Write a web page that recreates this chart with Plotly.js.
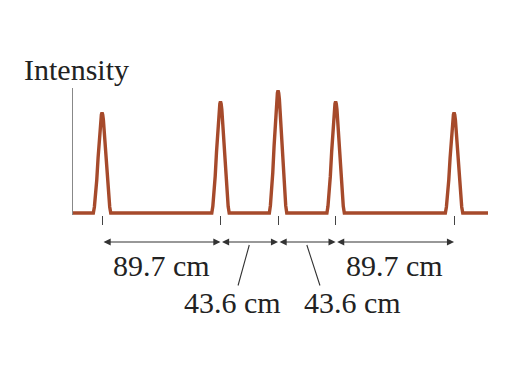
<!DOCTYPE html>
<html>
<head>
<meta charset="utf-8">
<script src="https://cdn.plot.ly/plotly-3.0.1.min.js"></script>
<style>html,body{margin:0;padding:0;background:#fff;}#chart{width:517px;height:367px;}</style>
</head>
<body>
<div id="chart"></div>
<script>
// Peak positions along the screen (cm) and relative intensities
const peakPositions = [0, 89.7, 133.3, 176.9, 266.6];
const peakIntensity = [0.82, 0.91, 1.0, 0.91, 0.82];
// Shape of a single peak: offset (cm) vs fraction of peak height
const profileOffsets = [-6.6, -5.8, -5, -4, -3, -2, -1, -0.5, 0, 0.5, 1, 2, 3, 4, 5, 5.8, 6.6];
const profileShape   = [0, 0.06, 0.15, 0.33, 0.55, 0.76, 0.93, 0.98, 1, 0.98, 0.93, 0.76, 0.55, 0.33, 0.15, 0.06, 0];
// Spacing labels between neighbouring peaks
const gapLabels = ['89.7 cm', '43.6 cm', '43.6 cm', '89.7 cm'];
const screenStart = -22, screenEnd = 292.3;

const xs = [screenStart], ys = [0];
peakPositions.forEach((p, i) => {
  profileOffsets.forEach((o, j) => { xs.push(p + o); ys.push(peakIntensity[i] * profileShape[j]); });
});
xs.push(screenEnd); ys.push(0);

const FONT = 'Liberation Serif, Times New Roman, serif';
const plotTop = 88, plotBottom = 215, plotH = plotBottom - plotTop;
const py = px => (plotBottom - px) / plotH; // pixel row -> paper y

const annotations = [];
// Intensity label
annotations.push({xref: 'paper', yref: 'paper', x: 0, y: py(69), xanchor: 'center', yanchor: 'middle',
  xshift: 3, text: 'Intensity', showarrow: false, font: {family: FONT, size: 30, color: '#222'}});
// dimension arrows
for (let i = 0; i < peakPositions.length - 1; i++) {
  annotations.push({xref: 'x', yref: 'paper', x: peakPositions[i + 1], y: py(242),
    axref: 'x', ayref: 'pixel', ax: peakPositions[i], ay: 0, text: '', showarrow: true,
    arrowside: 'end+start', arrowhead: 2, arrowsize: 1.3, arrowwidth: 1.1, arrowcolor: '#333'});
}
// long gap labels below their arrows
[0, 3].forEach(i => {
  annotations.push({xref: 'x', yref: 'paper', x: (peakPositions[i] + peakPositions[i + 1]) / 2, y: py(265),
    xanchor: 'center', yanchor: 'middle',
    text: gapLabels[i], showarrow: false, font: {family: FONT, size: 30, color: '#222'}});
});
// short gap labels with leader lines
const shortLabelX = [98.6, 189.3];
const leaderEndX = [102.7, 165.4];
[1, 2].forEach((i, k) => {
  const mid = (peakPositions[i] + peakPositions[i + 1]) / 2;
  annotations.push({xref: 'x', yref: 'paper', x: mid, y: py(245), axref: 'x', ayref: 'pixel',
    ax: leaderEndX[k], ay: 42, text: '', showarrow: true, arrowhead: 0, arrowwidth: 1.1, arrowcolor: '#333'});
  annotations.push({xref: 'x', yref: 'paper', x: shortLabelX[k], y: py(302), xanchor: 'center', yanchor: 'middle',
    text: gapLabels[i], showarrow: false, font: {family: FONT, size: 30, color: '#222'}});
});

const trace = {x: xs, y: ys, type: 'scatter', mode: 'lines',
  line: {color: '#a64a2b', width: 3.4}, hoverinfo: 'skip', cliponaxis: false};

const layout = {
  width: 517, height: 367,
  margin: {l: 73, r: 517 - 488, t: plotTop, b: 367 - plotBottom, pad: 0},
  paper_bgcolor: '#fff', plot_bgcolor: '#fff', showlegend: false,
  xaxis: {range: [screenStart, screenEnd], tickvals: peakPositions, ticks: 'outside', ticklen: 9,
    tickwidth: 1, tickcolor: '#444', showticklabels: false, showgrid: false, zeroline: false, showline: false, fixedrange: true},
  yaxis: {range: [-2 / 122.5, (213 - plotTop) / 122.5], showline: true, linecolor: '#888', linewidth: 1,
    ticks: '', showticklabels: false, showgrid: false, zeroline: false, fixedrange: true},
  annotations: annotations
};
Plotly.newPlot('chart', [trace], layout, {staticPlot: true, displayModeBar: false});
</script>
</body>
</html>
